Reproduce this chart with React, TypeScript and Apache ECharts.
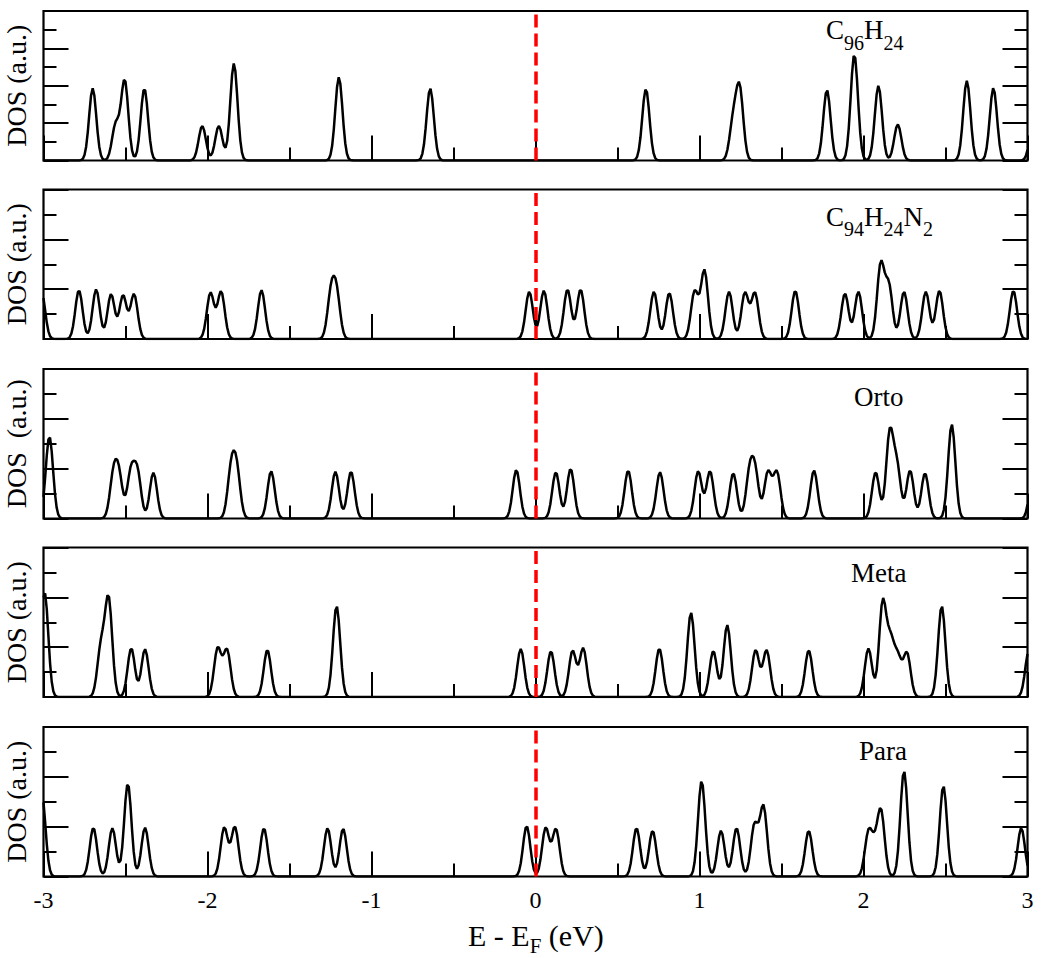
import React, { useEffect, useRef } from "react";
import * as echarts from "echarts";

// ---------- data: energy levels (eV, relative to E_F) and peak weights ----------
const X_MIN = -3;
const X_MAX = 3;
const FERMI = 0;
const Y_MAX = [8, 6, 6, 6, 6];

const C96H24_E = [-2.7, -2.56, -2.505, -2.385, -2.032, -1.931, -1.839, -1.199, -0.642, 0.673, 1.205, 1.245, 1.777, 1.944, 2.091, 2.209, 2.63, 2.792, 3.035];
const C96H24_W = [3.86, 1.9, 4.28, 3.86, 1.85, 1.85, 5.2, 4.46, 3.86, 3.83, 2.0, 3.75, 3.78, 5.69, 4.0, 1.93, 4.27, 3.88, 2.0];

const C94H24N2_E = [-3.012, -2.784, -2.679, -2.588, -2.515, -2.448, -1.982, -1.917, -1.671, -1.247, -1.213, -0.038, 0.051, 0.195, 0.275, 0.722, 0.816, 0.97, 1.03, 1.18, 1.277, 1.338, 1.584, 1.887, 1.969, 2.105, 2.155, 2.247, 2.38, 2.463, 2.914];
const C94H24N2_W = [1.9, 1.96, 1.99, 1.8, 1.75, 1.8, 1.85, 1.9, 1.96, 1.72, 1.72, 1.9, 1.94, 1.99, 1.99, 1.9, 1.85, 1.9, 2.75, 1.9, 1.85, 1.85, 1.94, 1.83, 1.9, 2.98, 2.1, 1.9, 1.9, 1.94, 1.94];

const ORTO_E = [-2.964, -2.574, -2.54, -2.468, -2.427, -2.33, -1.856, -1.822, -1.612, -1.22, -1.125, -0.117, 0.124, 0.214, 0.565, 0.759, 0.992, 1.064, 1.206, 1.305, 1.34, 1.417, 1.472, 1.698, 2.074, 2.16, 2.205, 2.284, 2.375, 2.538, 3.035];
const ORTO_W = [3.3, 1.62, 1.62, 1.79, 1.79, 1.84, 1.85, 1.85, 1.9, 1.88, 1.88, 1.95, 1.86, 2.0, 1.93, 1.86, 1.9, 1.9, 1.82, 1.73, 1.73, 1.85, 1.85, 1.93, 1.86, 3.4, 2.0, 1.93, 1.82, 3.78, 2.0];

const META_E = [-2.993, -2.65, -2.603, -2.465, -2.381, -1.938, -1.881, -1.635, -1.213, -0.09, 0.094, 0.226, 0.291, 0.755, 0.948, 1.084, 1.169, 1.342, 1.409, 1.666, 2.03, 2.117, 2.165, 2.21, 2.265, 2.477, 3.008];
const META_W = [4.2, 1.95, 3.9, 1.96, 1.92, 1.95, 1.88, 1.89, 3.66, 1.93, 1.84, 1.85, 1.95, 1.95, 3.39, 1.85, 2.89, 1.88, 1.88, 1.88, 1.95, 3.75, 2.1, 1.5, 1.75, 3.66, 1.85];

const PARA_E = [-3.01, -2.696, -2.58, -2.486, -2.381, -1.898, -1.833, -1.656, -1.268, -1.173, -0.054, 0.062, 0.125, 0.616, 0.714, 1.013, 1.131, 1.226, 1.335, 1.39, 1.666, 2.03, 2.068, 2.107, 2.247, 2.487, 2.962];
const PARA_W = [3.3, 1.96, 1.94, 3.74, 1.96, 1.96, 1.99, 1.94, 1.94, 1.92, 2.03, 1.95, 1.9, 1.95, 1.84, 3.84, 1.84, 1.95, 2.05, 2.8, 1.84, 1.7, 0.9, 2.55, 4.24, 3.64, 1.95];

// Gaussian broadening of the levels and energy grid step of the DOS curve
const SIGMA = 0.022;
const STEP = 0.01;

const PANEL_LEVELS = [
  { e: C96H24_E, w: C96H24_W },
  { e: C94H24N2_E, w: C94H24N2_W },
  { e: ORTO_E, w: ORTO_W },
  { e: META_E, w: META_W },
  { e: PARA_E, w: PARA_W },
];

// panel titles: [text, isSubscript]
const PANEL_TITLES: [string, boolean][][] = [
  [["C", false], ["96", true], ["H", false], ["24", true]],
  [["C", false], ["94", true], ["H", false], ["24", true], ["N", false], ["2", true]],
  [["Orto", false]],
  [["Meta", false]],
  [["Para", false]],
];
const Y_NAMES = ["DOS (a.u.)", "DOS (a.u.)", "DOS\u00a0 (a.u.)", "DOS (a.u.)", "DOS (a.u.)"];
const X_TITLE: [string, boolean][] = [["E - E", false], ["F", true], [" (eV)", false]];

// ---------- layout ----------
const W = 1041;
const H = 958;
const GRID_LEFT = 43.5;
const GRID_RIGHT = 13.5;
const GRID_TOPS = [11, 189.5, 369, 547.5, 727];
const GRID_H = 149.5;
const FONT = "Liberation Serif";
const TITLE_POS = [
  [826, 39.5],
  [826, 225.7],
  [854, 405.7],
  [851, 581.7],
  [859, 759.7],
];

function dosCurve(levels: number[], weights: number[]) {
  const pts: [number, number][] = [];
  const n = Math.round((X_MAX - X_MIN) / STEP);
  for (let i = 0; i <= n; i++) {
    const x = X_MIN + i * STEP;
    let y = 0;
    for (let k = 0; k < levels.length; k++) {
      const d = (x - levels[k]) / SIGMA;
      y += weights[k] * Math.exp(-0.5 * d * d);
    }
    pts.push([+x.toFixed(4), y]);
  }
  return pts;
}

let measureCtx: CanvasRenderingContext2D | null = null;
function textWidth(t: string, size: number) {
  if (!measureCtx) measureCtx = document.createElement("canvas").getContext("2d");
  if (!measureCtx) return t.length * size * 0.5;
  measureCtx.font = `${size}px "${FONT}"`;
  return measureCtx.measureText(t).width;
}

function subText(parts: [string, boolean][], x0: number, baseline: number, main: number, sub: number, drop: number) {
  const els: any[] = [];
  let x = x0;
  for (const [t, isSub] of parts) {
    const size = isSub ? sub : main;
    const bl = isSub ? baseline + drop : baseline;
    els.push({
      type: "text",
      x,
      y: bl - 0.3375 * size,
      style: { text: t, fontSize: size, fontFamily: FONT, fill: "#000", align: "left", verticalAlign: "middle" },
      z: 100,
    });
    x += textWidth(t, size);
  }
  return els;
}

function buildOption() {
  const grids: any[] = [];
  const xAxes: any[] = [];
  const yAxes: any[] = [];
  const series: any[] = [];
  const graphics: any[] = [];
  const tick = { show: true, inside: true, length: 25, lineStyle: { color: "#000", width: 2 } };
  const minor = { show: true, splitNumber: 2, length: 13, lineStyle: { color: "#000", width: 2 } };

  for (let i = 0; i < 5; i++) {
    grids.push({
      left: GRID_LEFT,
      right: GRID_RIGHT,
      top: GRID_TOPS[i],
      height: GRID_H,
      show: true,
      borderColor: "#000",
      borderWidth: 2.2,
      backgroundColor: "transparent",
    });
    xAxes.push({
      type: "value",
      gridIndex: i,
      min: X_MIN,
      max: X_MAX,
      interval: 1,
      axisLine: { show: false, onZero: false },
      axisTick: tick,
      minorTick: minor,
      splitLine: { show: false },
      minorSplitLine: { show: false },
      axisLabel: {
        show: i === 4,
        fontSize: 24,
        fontFamily: FONT,
        color: "#000",
        margin: 11,
      },
    });
    for (const pos of ["left", "right"]) {
      yAxes.push({
        type: "value",
        gridIndex: i,
        position: pos,
        min: 0,
        max: Y_MAX[i],
        interval: 2,
        axisLine: { show: false, onZero: false },
        axisTick: tick,
        minorTick: minor,
        splitLine: { show: false },
        minorSplitLine: { show: false },
        axisLabel: { show: false },
      });
    }
    series.push({
      type: "line",
      xAxisIndex: i,
      yAxisIndex: i * 2,
      data: dosCurve(PANEL_LEVELS[i].e, PANEL_LEVELS[i].w),
      showSymbol: false,
      symbol: "none",
      lineStyle: { color: "#000", width: 2.5 },
      silent: true,
      clip: true,
      markLine: {
        silent: true,
        symbol: ["none", "none"],
        label: { show: false },
        lineStyle: { color: "#ff0000", width: 3.5, type: [13, 6] },
        data: [{ xAxis: FERMI }],
      },
    });
    graphics.push({
      type: "text",
      x: 16.2,
      y: GRID_TOPS[i] + GRID_H / 2,
      rotation: Math.PI / 2,
      style: {
        text: Y_NAMES[i],
        fontSize: 28,
        fontFamily: FONT,
        fill: "#000",
        align: "center",
        verticalAlign: "middle",
      },
    });
    graphics.push(...subText(PANEL_TITLES[i], TITLE_POS[i][0], TITLE_POS[i][1], 27, 20, 10.5));
  }
  graphics.push(...subText(X_TITLE, 468, 946, 30, 21, 7));

  return {
    animation: false,
    backgroundColor: "#fff",
    grid: grids,
    xAxis: xAxes,
    yAxis: yAxes,
    series,
    graphic: { elements: graphics },
  };
}

export default function App() {
  const ref = useRef<HTMLDivElement>(null);
  useEffect(() => {
    if (!ref.current) return;
    const chart = echarts.init(ref.current, null, { renderer: "svg" });
    chart.setOption(buildOption() as any);
    return () => chart.dispose();
  }, []);
  return <div ref={ref} style={{ position: "absolute", left: 0, top: 0, width: W, height: H }} />;
}
